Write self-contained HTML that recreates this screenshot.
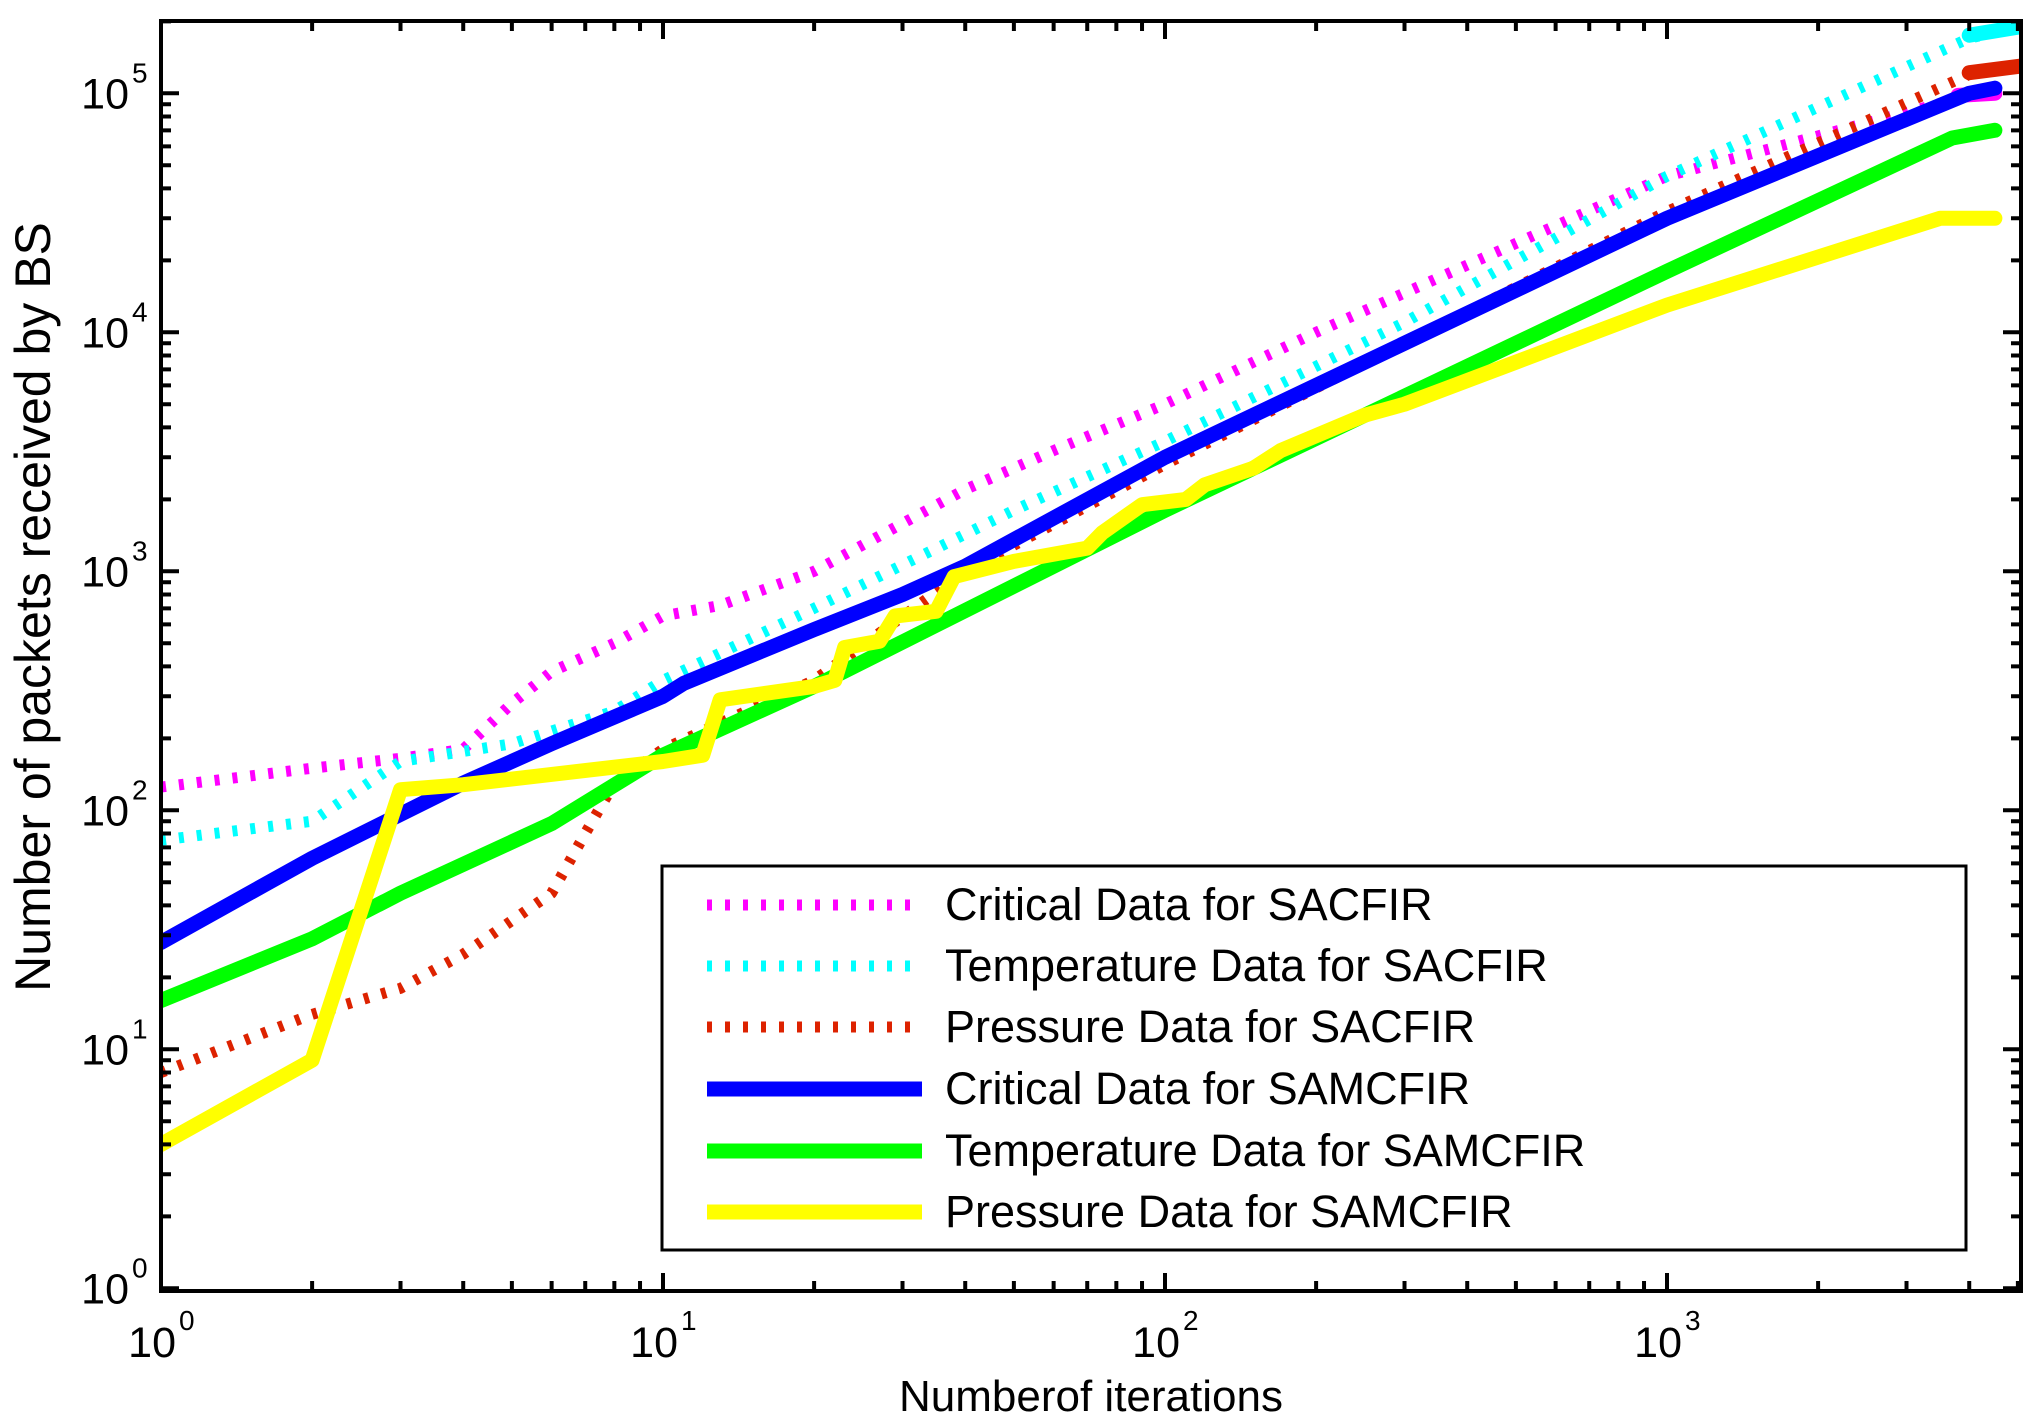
<!DOCTYPE html>
<html><head><meta charset="utf-8"><style>
html,body{margin:0;padding:0;background:#fff;}
svg{display:block;font-family:"Liberation Sans",Arial,sans-serif;}
</style></head><body>
<svg id="s" width="2035" height="1427" viewBox="0 0 2035 1427" xmlns="http://www.w3.org/2000/svg"></svg>
<script>
const L=161,R=2021,T=21,B=1291,DX=502,Y5=93.3,DY=239;
const X=v=>L+DX*Math.log10(v), Y=v=>Y5+(5-Math.log10(v))*DY;
let h='';
function path(pts,col,w,dash){
  let d=pts.map((p,i)=>(i?'L':'M')+X(p[0]).toFixed(1)+' '+Y(p[1]).toFixed(1)).join(' ');
  h+=`<path d="${d}" fill="none" stroke="${col}" stroke-width="${w}" stroke-linejoin="round" stroke-linecap="${dash?'butt':'round'}" ${dash?`stroke-dasharray="${dash}"`:''}/>`;
}
h+='<defs><clipPath id="c"><rect x="'+L+'" y="'+T+'" width="'+(R-L)+'" height="'+(B-T)+'"/></clipPath></defs><g clip-path="url(#c)">';
const dash="5 13";
path([[1,125],[2,150],[3,165],[4,180],[5,280],[6,380],[8,500],[10,650],[13,720],[20,1000],[40,2200],[60,3200],[100,5000],[200,10000],[1000,45000],[3800,95000],[4500,100000]],'#ff00ff',11,dash);
path([[3800,98000],[4500,100000]],'#ff00ff',15);
path([[1,75],[2,90],[3,160],[5,190],[8,260],[10,350],[20,700],[50,1800],[100,3500],[300,11000],[1000,45000],[4000,170000],[5070,190000]],'#00ffff',11,dash);
path([[4000,175000],[5070,190000]],'#00ffff',15);
path([[1,8],[2,14],[3,18],[4,25],[6,45],[7,80],[8,130],[10,180],[20,350],[40,1000],[100,2800],[300,9000],[1000,32000],[4000,120000],[5070,130000]],'#dd2200',11,dash);
path([[4000,122000],[5070,130000]],'#dd2200',15);
path([[1,28],[2,63],[4,130],[6,190],[10,300],[11,340],[20,570],[30,800],[40,1050],[100,3000],[1000,30000],[4000,100000],[4500,105000]],'#0000ff',15);
path([[1,16],[2,29],[3,45],[6,88],[10,170],[20,330],[100,1800],[1000,18000],[3700,65000],[4500,70000]],'#00ff00',15);
path([[1,4],[2,9],[3,122],[4,128],[10,160],[12,170],[13,290],[20,330],[22,350],[23,480],[27,510],[29,650],[35,680],[38,950],[50,1100],[70,1250],[75,1450],[90,1900],[110,2000],[120,2300],[150,2700],[170,3200],[250,4500],[300,5000],[500,7500],[1000,13000],[3500,30000],[4500,30000]],'#ffff00',15);
h+='</g>';
let t='';
for(let e=0;e<4;e++)for(let m=1;m<10;m++){let v=m*Math.pow(10,e);let x=X(v);if(x>R)continue;let len=m==1?18:10;
 t+=`M${x} ${B}v${-len}M${x} ${T}v${len}`;}
for(let e=0;e<6;e++)for(let m=1;m<10;m++){let v=m*Math.pow(10,e);let y=Y(v);if(y<T)continue;let len=m==1?18:10;
 t+=`M${L} ${y}h${len}M${R} ${y}h${-len}`;}
h+=`<path d="${t}" stroke="#000" stroke-width="4" fill="none"/>`;
h+=`<rect x="${L}" y="${T}" width="${R-L}" height="${B-T}" fill="none" stroke="#000" stroke-width="4"/>`;
for(let e=0;e<=5;e++){let y=Y(Math.pow(10,e));
 h+=`<text x="129" y="${y+15}" font-size="43" text-anchor="end">10</text><text x="132" y="${y-11}" font-size="28">${e}</text>`;}
for(let e=0;e<=3;e++){let x=X(Math.pow(10,e));
 h+=`<text x="${x+15}" y="1357" font-size="43" text-anchor="end">10</text><text x="${x+18}" y="1330" font-size="28">${e}</text>`;}
h+=`<text x="1091" y="1411" font-size="44" text-anchor="middle">Numberof iterations</text>`;
h+=`<text transform="translate(50,607) rotate(-90)" font-size="50" text-anchor="middle">Number of packets received by BS</text>`;
h+=`<rect x="662" y="866" width="1304" height="384" fill="#fff" stroke="#000" stroke-width="3"/>`;
const lg=[['Critical Data for SACFIR','#ff00ff',1],['Temperature Data for SACFIR','#00ffff',1],['Pressure Data for SACFIR','#dd2200',1],['Critical Data for SAMCFIR','#0000ff',0],['Temperature Data for SAMCFIR','#00ff00',0],['Pressure Data for SAMCFIR','#ffff00',0]];
const ly=[905,966,1027,1089,1151,1212];
lg.forEach((g,i)=>{let y=ly[i];
 h+=`<line x1="707" y1="${y}" x2="922" y2="${y}" stroke="${g[1]}" stroke-width="${g[2]?11:15}" ${g[2]?'stroke-dasharray="5 13"':''}/>`;
 h+=`<text x="945" y="${y+15}" font-size="45">${g[0]}</text>`;});
document.getElementById('s').innerHTML=h;
</script>
</body></html>
